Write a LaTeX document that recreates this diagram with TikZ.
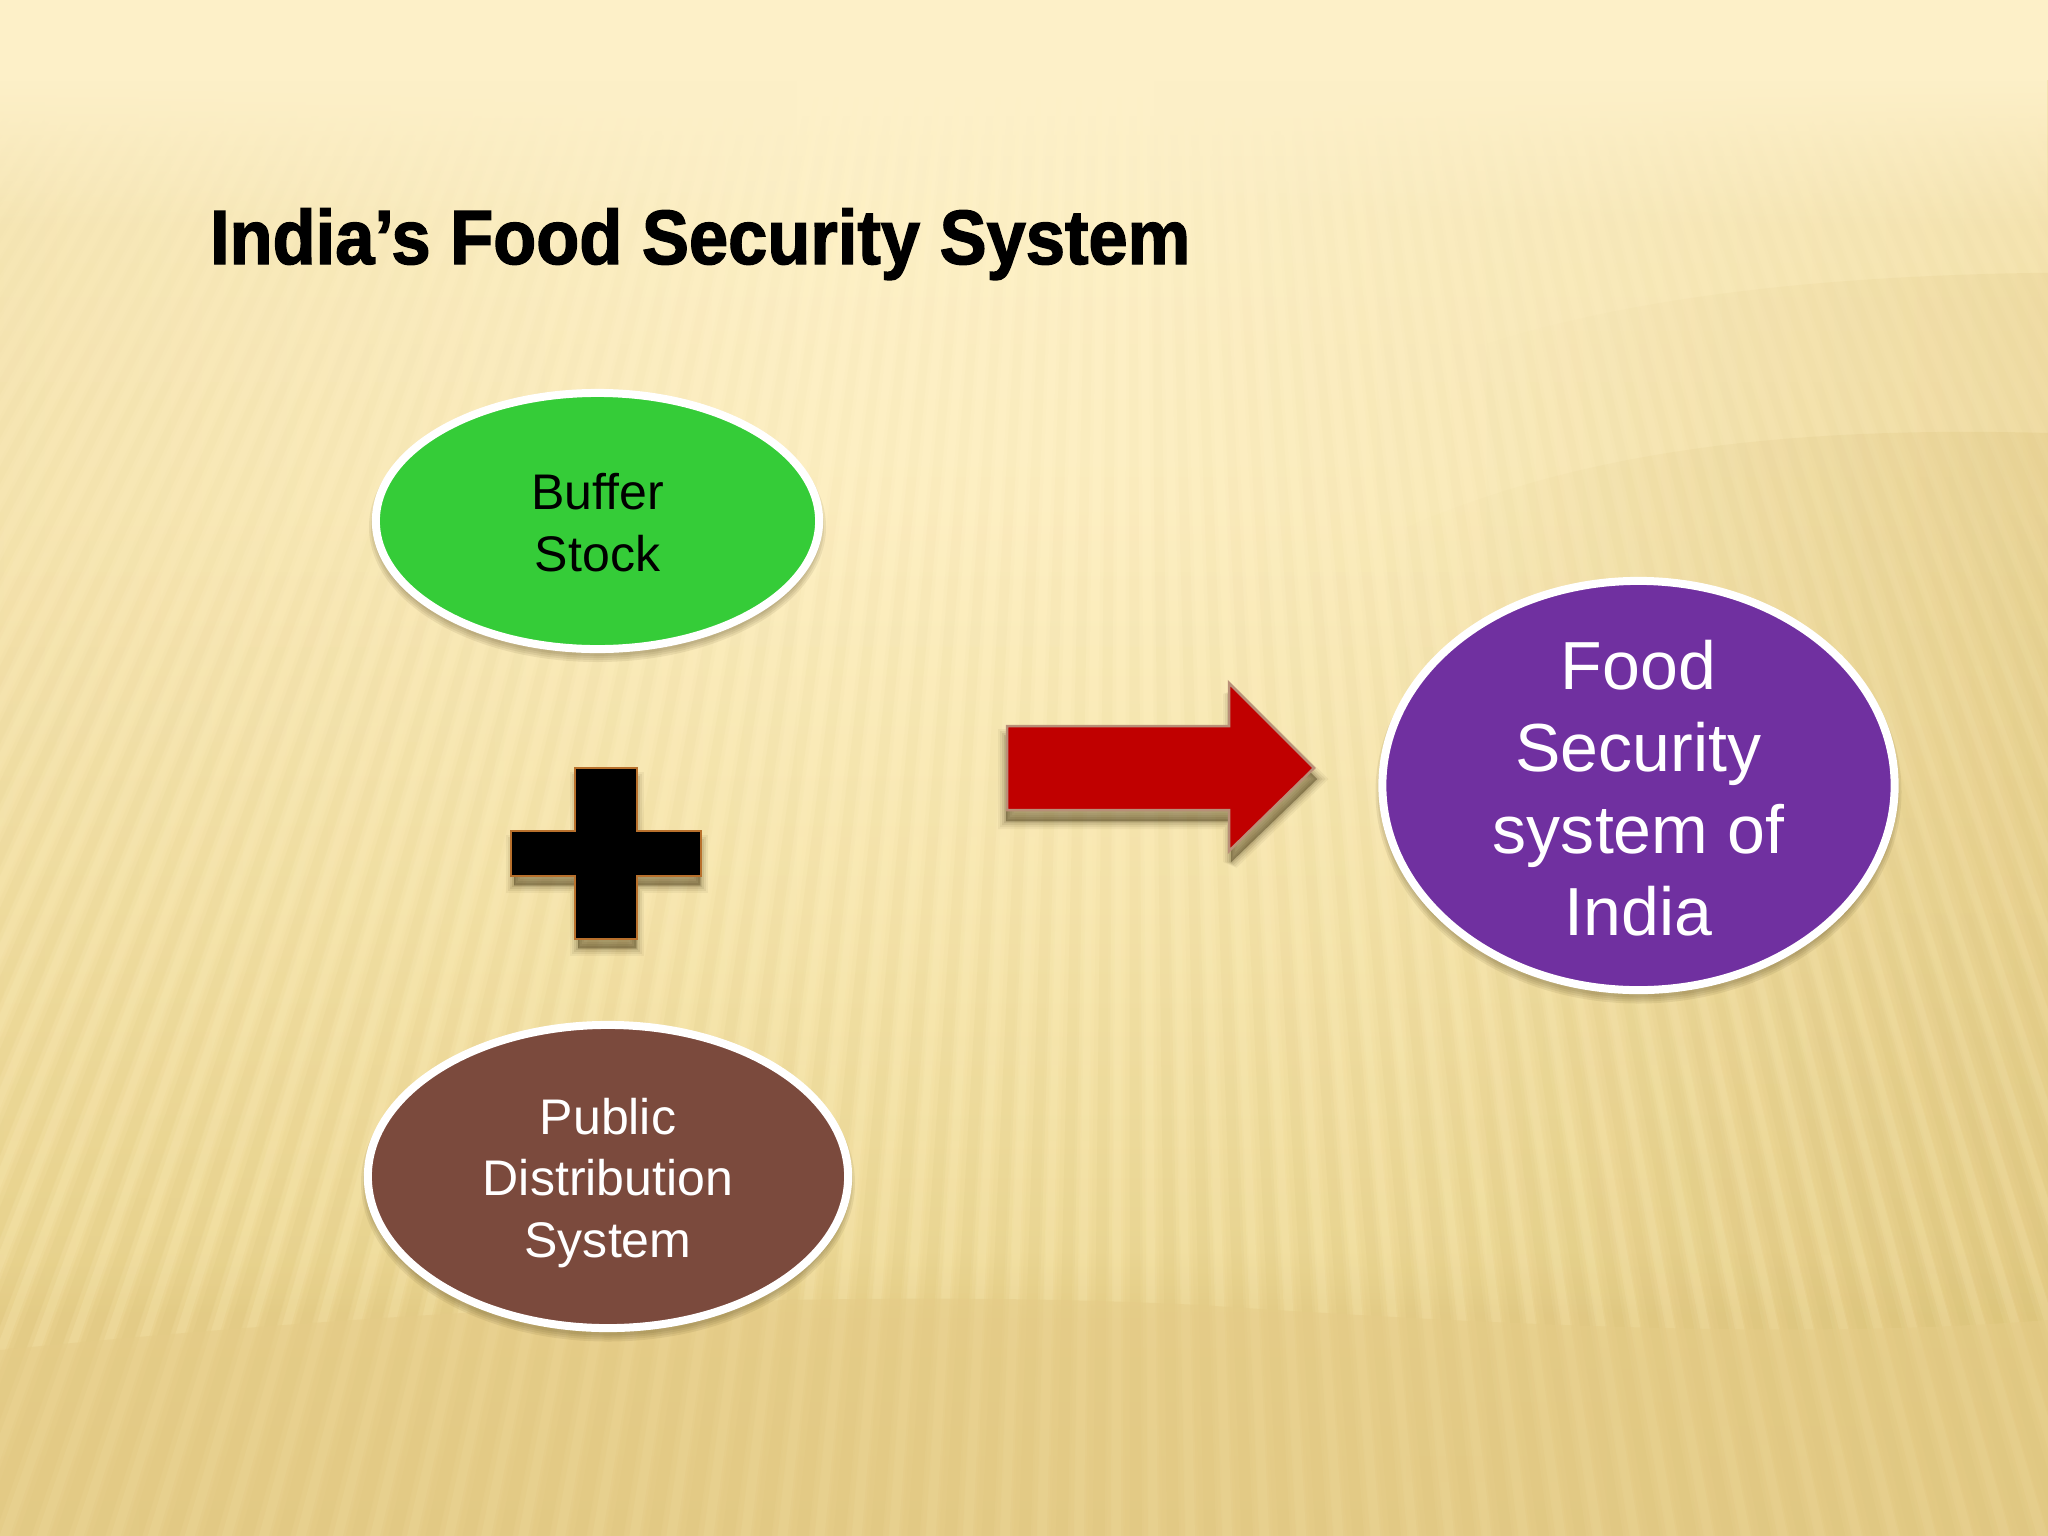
\documentclass[tikz,border=0pt]{standalone}
\usepackage{fontspec}
\setmainfont{Liberation Sans}
\newfontface\titlefont{Liberation Sans Bold}[FakeStretch=0.915,FakeBold=1.8]
\usetikzlibrary{shapes.geometric,fadings}
\definecolor{bgA}{HTML}{FDF0C8}
\definecolor{bgB}{HTML}{FDEFC2}
\definecolor{bgC}{HTML}{F8E7B0}
\definecolor{bgD}{HTML}{EFDB9A}
\definecolor{bgE}{HTML}{E8D08C}
\definecolor{bgF}{HTML}{E5CC88}
\definecolor{stripeDark}{HTML}{CDB868}
\definecolor{stripeLight}{HTML}{FFF4C4}
\definecolor{swoosh}{HTML}{D8BC70}
\definecolor{shadowC}{HTML}{4A3C18}
\definecolor{greenF}{HTML}{35CC38}
\definecolor{brownF}{HTML}{7B4A3D}
\definecolor{purpleF}{HTML}{7030A0}
\definecolor{redF}{HTML}{C00000}
\definecolor{redE}{HTML}{B98F78}
\definecolor{crossE}{HTML}{B8702C}
\pgfdeclareverticalshading{bgshade}{100bp}{color(0bp)=(bgF); color(25bp)=(bgF); color(32bp)=(bgE); color(34.3bp)=(bgD); color(45.7bp)=(bgC); color(58.7bp)=(bgB); color(72bp)=(bgA); color(75bp)=(bgA); color(100bp)=(bgA)}
\tikzfading[name=stripefade, top color=transparent!100, middle color=transparent!0, bottom color=transparent!70]
\tikzfading[name=fadeleft, left color=transparent!100, right color=transparent!0]
\tikzfading[name=faderight, left color=transparent!0, right color=transparent!100]
\tikzfading[name=fadedown, top color=transparent!0, bottom color=transparent!100]
\tikzset{
  blob/.style={ellipse, draw=white, line width=0.08cm, inner sep=0pt, outer sep=0pt, align=center},
  smalltext/.style={font=\fontsize{14.23}{17.55}\selectfont},
  bigtext/.style={font=\fontsize{19.35}{23.33}\selectfont, text=white},
  titletext/.style={font=\titlefont\fontsize{21.9}{26}\selectfont, inner sep=0pt, outer sep=0pt, anchor=base west, text=black},
  softshadow/.style={fill=shadowC, opacity=0.09}
}
\newcommand{\pxrule}[2]{\rule[-#2cm]{0pt}{#1cm}}
\newcommand{\stripes}[2]{% offset, width
  \foreach \k in {-58,...,58}{
    ({1130+(\k*37.1+#1)*0.5433},90) -- ({1130+(\k*37.1+#1+#2)*0.5433},90) -- ({1130+\k*37.1+#1+#2},1536) -- ({1130+\k*37.1+#1},1536) -- cycle
  }
}
\begin{document}
\begin{tikzpicture}[x=0.01cm,y=-0.01cm]
\useasboundingbox (0,0) rectangle (2048,1536);
\begin{scope}
\clip (0,0) rectangle (2048,1536);
% background
\fill[shading=bgshade] (0,0) rectangle (2048,1536);
% side darkening
\fill[bgE, opacity=0.30, path fading=faderight] (0,0) rectangle (800,1536);
\fill[bgE, opacity=0.38, path fading=fadeleft] (1150,0) rectangle (2048,1536);
% swooshes on the right
\fill[swoosh, opacity=0.16, path fading=fadeleft] (1480,345) .. controls (1620,300) and (1800,275) .. (2048,272) -- (2048,1536) -- (1480,1536) -- cycle;
\fill[swoosh, opacity=0.24, path fading=fadeleft] (1400,530) .. controls (1560,460) and (1750,425) .. (2048,433) -- (2048,1536) -- (1400,1536) -- cycle;
% stripes
\fill[stripeDark, opacity=0.22, path fading=stripefade] \stripes{-3}{24};
\fill[stripeDark, opacity=0.42, path fading=stripefade] \stripes{2}{14};
\fill[stripeLight, opacity=0.35, path fading=stripefade] \stripes{20}{18};
\fill[stripeLight, opacity=0.55, path fading=stripefade] \stripes{24}{10};
% bottom band
\fill[bgF, opacity=0.55] (0,1350) .. controls (500,1300) and (900,1290) .. (1200,1305) .. controls (1500,1325) and (1800,1340) .. (2048,1320) -- (2048,1536) -- (0,1536) -- cycle;
% top band
\fill[bgA] (0,0) rectangle (2048,80);
\fill[bgA, path fading=fadedown] (0,80) rectangle (2048,230);
\end{scope}
% title
\node[titletext] (title) at (210,264) {India’s Food Security System};
% shadows of the ovals
\foreach \e in {0,2,4,6}{
  \fill[softshadow] (597.5,527) ellipse ({225.5+\e-3} and {132+\e-3});
  \fill[softshadow] (608,1183) ellipse ({244+\e-3} and {155.5+\e-3});
  \fill[softshadow] (1638.5,792) ellipse ({260+\e-3} and {208.5+\e-3});
}
% ovals
\node[blob, fill=greenF, smalltext, minimum width=4.43cm, minimum height=2.56cm] (buffer) at (597.5,521)
  {\pxrule{0.405}{0.01}Buffer\\Stock};
\node[blob, fill=brownF, smalltext, text=white, minimum width=4.80cm, minimum height=3.03cm] (pds) at (608,1176.5)
  {\pxrule{0.60}{0.11}Public\\Distribution\\System};
\node[blob, fill=purpleF, bigtext, inner ysep=-0.4cm, minimum width=5.12cm, minimum height=4.09cm] (fss) at (1638.5,785.5)
  {\pxrule{0.55}{0.01}Food\\Security\\system of\\India};
% plus sign
\foreach \e/\o in {16/0.06,12/0.08,8/0.10,4/0.12,1/0.14}{
  \draw[shadowC, fill=shadowC, line width=\e*0.01cm, opacity=\o, line join=miter, transparency group]
    (578,780) -- (636,780) -- (636,843) -- (700,843) -- (700,885) -- (636,885) -- (636,948) -- (578,948) -- (578,885) -- (514,885) -- (514,843) -- (578,843) -- cycle;
}
\draw[crossE, fill=black, line width=0.025cm, line join=miter]
  (575,768) -- (637,768) -- (637,831) -- (701,831) -- (701,876) -- (637,876) -- (637,939) -- (575,939) -- (575,876) -- (511,876) -- (511,831) -- (575,831) -- cycle;
% arrow
\foreach \e/\o in {16/0.06,12/0.08,8/0.10,4/0.12,1/0.14}{
  \draw[shadowC, fill=shadowC, line width=\e*0.01cm, opacity=\o, line join=miter, miter limit=2, transparency group]
    (1006,737) -- (1231,737) -- (1231,694) -- (1317,779) -- (1231,862) -- (1231,821) -- (1006,821) -- cycle;
}
\draw[redE, fill=redF, line width=0.025cm, line join=miter]
  (1007,726) -- (1229,726) -- (1229,683) -- (1314,768) -- (1229,851) -- (1229,810) -- (1007,810) -- cycle;
\end{tikzpicture}
\end{document}
